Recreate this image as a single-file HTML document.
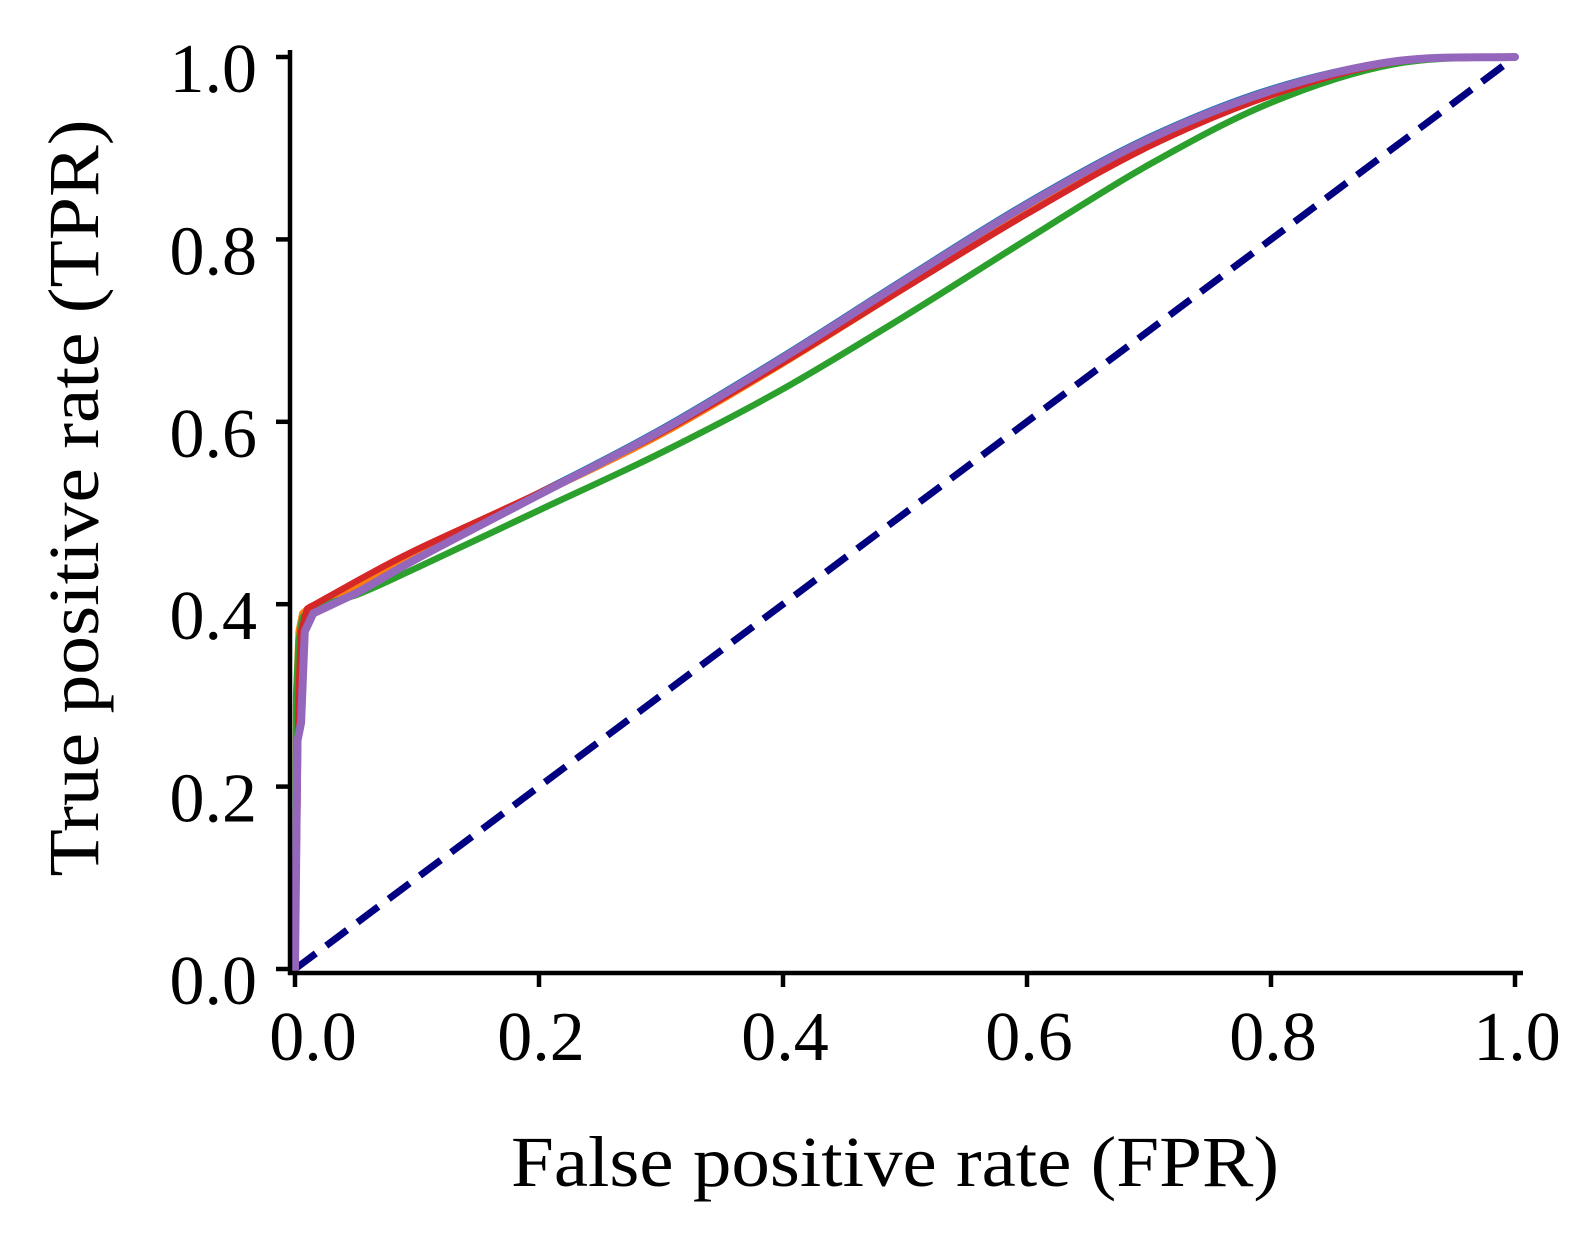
<!DOCTYPE html>
<html><head><meta charset="utf-8"><style>
html,body{margin:0;padding:0;background:#fff;}
svg{display:block;font-family:"Liberation Serif",serif;}
</style></head><body>
<svg id="chart" width="1586" height="1253" viewBox="0 0 1586 1253" xmlns="http://www.w3.org/2000/svg">
<g id="series"></g>
<g id="axes"></g>
</svg>
<script>
const xTicks=[0,0.2,0.4,0.6,0.8,1.0];
const yTicks=[0,0.2,0.4,0.6,0.8,1.0];
const tickLabels=["0.0","0.2","0.4","0.6","0.8","1.0"];
const fprBlue=[0,0.002,0.005,0.008,0.015,0.05,0.1,0.2,0.3,0.4,0.5,0.6,0.7,0.8,0.9,1];
const tprBlue=[0,0.25,0.27,0.37,0.39,0.415,0.455,0.522,0.592,0.672,0.757,0.84,0.912,0.965,0.995,1];
const fprOrange=[0,0.001,0.003,0.006,0.012,0.05,0.1,0.2,0.3,0.4,0.5,0.6,0.7,0.8,0.9,1];
const tprOrange=[0,0.3,0.37,0.39,0.397,0.42,0.456,0.52,0.586,0.664,0.747,0.83,0.905,0.96,0.994,1];
const fprGreen=[0,0.001,0.003,0.006,0.012,0.05,0.1,0.2,0.3,0.4,0.5,0.6,0.7,0.8,0.9,1];
const tprGreen=[0,0.3,0.36,0.385,0.395,0.41,0.44,0.503,0.566,0.636,0.716,0.8,0.882,0.95,0.992,1];
const fprRed=[0,0.002,0.003,0.005,0.01,0.05,0.1,0.2,0.3,0.4,0.5,0.6,0.7,0.8,0.9,1];
const tprRed=[0,0.18,0.3,0.37,0.395,0.425,0.46,0.522,0.588,0.665,0.747,0.828,0.902,0.958,0.994,1];
const fprPurple=[0,0.002,0.005,0.008,0.015,0.05,0.1,0.2,0.3,0.4,0.5,0.6,0.7,0.8,0.9,1];
const tprPurple=[0,0.25,0.27,0.37,0.39,0.412,0.45,0.52,0.59,0.67,0.755,0.838,0.91,0.963,0.995,1];
const seriesColors=["#1f77b4","#ff7f0e","#2ca02c","#d62728","#9467bd"];
const seriesNames=["roc-curve-blue","roc-curve-orange","roc-curve-green","roc-curve-red","roc-curve-purple"];
const chanceX=[0,1], chanceY=[0,1];

const X0=295,XS=1220,Y0=969,YS=912;
const sx=v=>X0+v*XS, sy=v=>Y0-v*YS;
const NS="http://www.w3.org/2000/svg";
const sg=document.getElementById('series'), ag=document.getElementById('axes');
function mk(tag,attrs,parent){const e=document.createElementNS(NS,tag);for(const k in attrs)e.setAttribute(k,attrs[k]);parent.appendChild(e);return e;}

const dl=mk('path',{d:`M${sx(chanceX[0])},${sy(chanceY[0])}L${sx(chanceX[1])},${sy(chanceY[1])}`,stroke:'#000080','stroke-width':7,'stroke-dasharray':'26,13',fill:'none'},sg);



const allX=[fprBlue,fprOrange,fprGreen,fprRed,fprPurple];
const allY=[tprBlue,tprOrange,tprGreen,tprRed,tprPurple];
[0,1,2,3,4].forEach(i=>{
  const xs=allX[i], ys=allY[i];
  let d='';
  for(let j=0;j<xs.length;j++){
    const px=sx(xs[j]),py=sy(ys[j]);
    if(j===0)d+=`M${px},${py}`;
    else if(j<6)d+=`L${px},${py}`;
    else{
      const p0x=sx(xs[j-1]),p0y=sy(ys[j-1]);
      const pm=[sx(xs[j-2]),sy(ys[j-2])];
      const pn=j+1<xs.length?[sx(xs[j+1]),sy(ys[j+1])]:[px+(px-p0x),py];
      const c1x=p0x+(px-pm[0])/6,c1y=p0y+(py-pm[1])/6;
      const c2x=px-(pn[0]-p0x)/6,c2y=py-(pn[1]-p0y)/6;
      d+=`C${c1x},${c1y} ${c2x},${c2y} ${px},${py}`;
    }
  }
  const p=mk('path',{d:d,stroke:seriesColors[i],'stroke-width':i===4?8:6.5,fill:'none','stroke-linejoin':'round','stroke-linecap':'round'},sg);
  
  
});

const ls=mk('line',{x1:290,y1:50,x2:290,y2:975,stroke:'#000','stroke-width':4.5},ag);


const bs=mk('line',{x1:288,y1:973,x2:1523,y2:973,stroke:'#000','stroke-width':4.5},ag);



xTicks.forEach((v,i)=>{
  const t=mk('line',{x1:sx(v),y1:973,x2:sx(v),y2:987,stroke:'#000','stroke-width':4.5},ag);
  
  
  const tx=mk('text',{x:i===0?313:sx(v)+2,y:1060,'font-size':70,'text-anchor':'middle',fill:'#000'},ag);
  tx.textContent=tickLabels[i];
  
  
});
yTicks.forEach((v,i)=>{
  const t=mk('line',{x1:276,y1:sy(v),x2:290,y2:sy(v),stroke:'#000','stroke-width':4.5},ag);
  
  
  const tx=mk('text',{x:257,y:sy(v)+35,'font-size':70,'text-anchor':'end',fill:'#000'},ag);
  tx.textContent=tickLabels[i];
  
  
});
const xt=mk('text',{x:895,y:1186,'font-size':72,'text-anchor':'middle',textLength:768,lengthAdjust:'spacingAndGlyphs',fill:'#000'},ag);
xt.textContent='False positive rate (FPR)';


const yt=mk('text',{x:0,y:0,'font-size':72,'text-anchor':'middle',textLength:757,lengthAdjust:'spacingAndGlyphs',fill:'#000',transform:'translate(98,498) rotate(-90)'},ag);
yt.textContent='True positive rate (TPR)';


</script>
</body></html>
